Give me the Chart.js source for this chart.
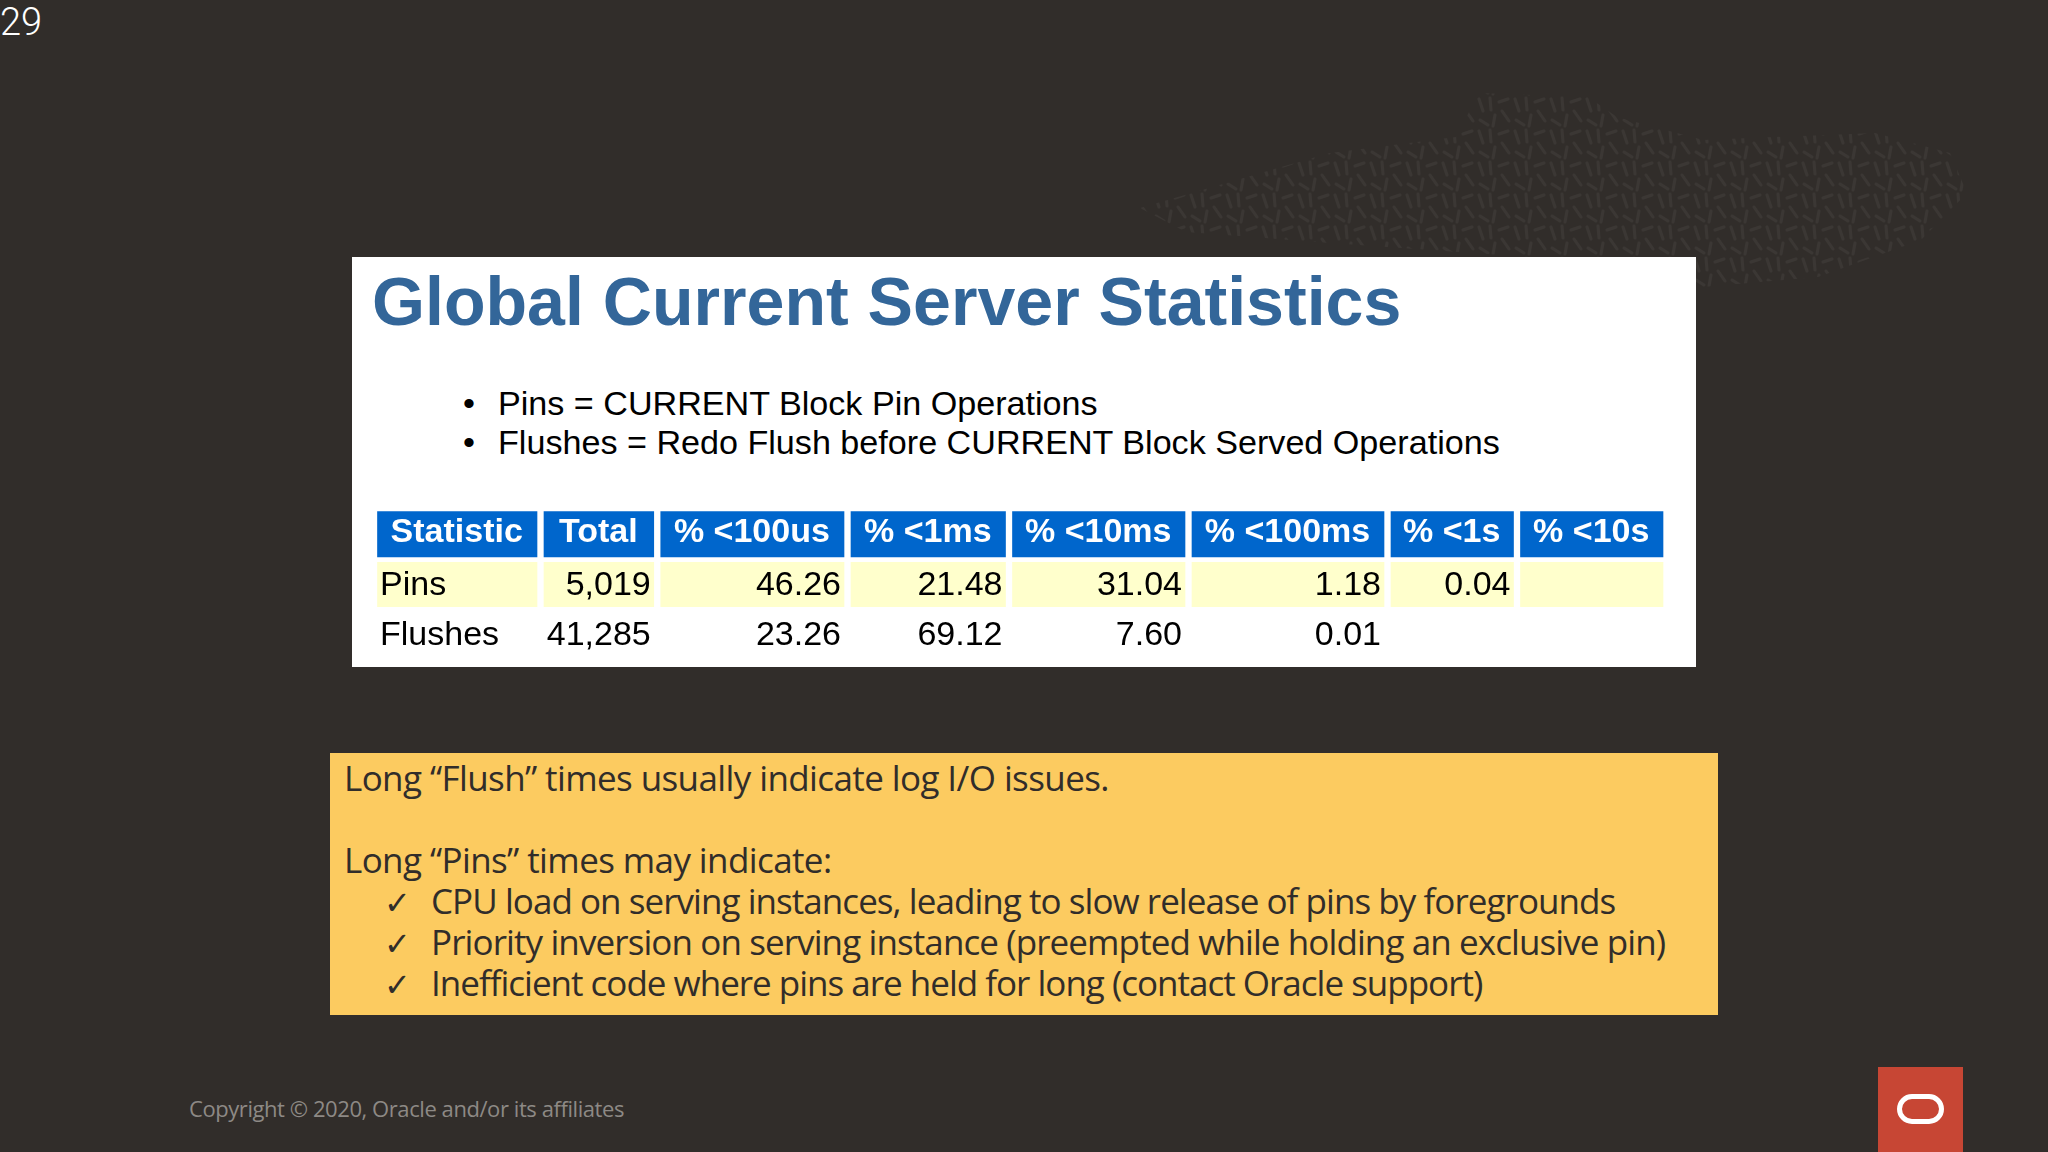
<!DOCTYPE html>
<html>
<head>
<meta charset="utf-8">
<title>Global Current Server Statistics</title>
<script src="https://cdn.jsdelivr.net/npm/chart.js@4"></script>
<style>
html, body { margin: 0; padding: 0; background: #312d2a; }
#slide { position: relative; width: 2048px; height: 1152px; overflow: hidden; background: #312d2a; }
#slide > * { position: absolute; }
.txt { white-space: nowrap; line-height: 1; transform: translateY(-50%); }
#pageNo { left: 0; top: 0; font: 300 38px Roboto, sans-serif; color: #fff; }
#blob { left: 0; top: 0; }
#panel { left: 352px; top: 257px; width: 1344px; height: 410px; background: #fff; }
#title { left: 372px; top: 301px; font: bold 68.1px "Liberation Sans", Arial, sans-serif; color: #336699; }
.bul { font: 34.13px "Liberation Sans", Arial, sans-serif; color: #000; }
#box { left: 330px; top: 753px; width: 1388px; height: 262px; background: #fccb60; }
#notes { left: 344px; top: 757px; font: 35px/41px "Open Sans", sans-serif; color: #312d2a; letter-spacing: -0.6px; white-space: nowrap; }
#notes .li { letter-spacing: -0.9px; }
#notes .ck { display: inline-block; width: 87px; padding-left: 40px; box-sizing: border-box; font-family: "DejaVu Sans"; font-size: 32px; line-height: 0; letter-spacing: 0; }
#tableWrap { left: 373.5px; top: 509px; width: 1292.5px; height: 151px; }
#copy { left: 189px; top: 1108px; font: 22px "Open Sans", sans-serif; color: #8d8985; letter-spacing: -0.43px; }
#logo { left: 1878px; top: 1067px; width: 85px; height: 85px; background: #c74634; }
#logo div { position: absolute; left: 19px; top: 27px; width: 37px; height: 20px; border: 5px solid #fff; border-radius: 15px; }
</style>
</head>
<body>
<div id="slide">
  <svg id="blob" width="2048" height="1152">
    <defs>
      <pattern id="dashes" width="36" height="32" patternUnits="userSpaceOnUse">
        <g stroke="#3b3734" stroke-width="3" stroke-linecap="round">
          <path d="M3 3 L7 15"/><path d="M14 2 L15 14"/><path d="M23 6 L32 3"/>
          <path d="M4 24 L12 29"/><path d="M19 19 L17 30"/><path d="M26 15 L33 25"/>
        </g>
      </pattern>
    </defs>
    <path fill="url(#dashes)" d="M1140 208 L1330 153 L1456 137 L1479 93 L1588 97 L1617 117 L1703 140 L1875 133 L1950 153 L1967 193 L1921 240 L1818 277 L1703 287 L1530 257 L1330 243 L1186 232 Z"/>
  </svg>

  <div id="pageNo">29</div>

  <div id="panel"></div>
  <div id="title" class="txt">Global Current Server Statistics</div>
  <div class="txt bul" style="left:463px;top:403px">•</div>
  <div class="txt bul" style="left:498px;top:403px">Pins = CURRENT Block Pin Operations</div>
  <div class="txt bul" style="left:463px;top:442px">•</div>
  <div class="txt bul" style="left:498px;top:442px">Flushes = Redo Flush before CURRENT Block Served Operations</div>

  <div id="tableWrap"><canvas id="statsTable"></canvas></div>

  <div id="box"></div>
  <div id="notes">Long “Flush” times usually indicate log I/O issues.<br>
<br>
Long “Pins” times may indicate:<br>
<span class="ck">✓</span><span class="li" style="letter-spacing:-0.95px">CPU load on serving instances, leading to slow release of pins by foregrounds</span><br>
<span class="ck">✓</span><span class="li">Priority inversion on serving instance (preempted while holding an exclusive pin)</span><br>
<span class="ck">✓</span><span class="li" style="letter-spacing:-1px">Inefficient code where pins are held for long (contact Oracle support)</span></div>

  <div id="copy" class="txt">Copyright © 2020, Oracle and/or its affiliates</div>
  <div id="logo"><div></div></div>
</div>

<script>
// table content
const headers = ['Statistic', 'Total', '% <100us', '% <1ms', '% <10ms', '% <100ms', '% <1s', '% <10s'];
const rowNames = ['Pins', 'Flushes'];
const pinsValues = [5019, 46.26, 21.48, 31.04, 1.18, 0.04, null];
const flushesValues = [41285, 23.26, 69.12, 7.60, 0.01, null, null];

// column widths, they include the white gap between the cells
const columnWidths = [166.5, 116.75, 190.25, 161.5, 179.5, 199, 129.5, 149.5];
const rowFills = ['#0066cc', '#ffffcc', '#ffffff'];
const rowGaps = [2.5, 3, 3];
const sideGap = 3.5;

const categories = ['header', ...rowNames];

function cellText(row, col) {
    if (row === 0) return headers[col];
    if (col === 0) return rowNames[row - 1];
    const values = row === 1 ? pinsValues : flushesValues;
    const v = values[col - 1];
    if (v === null) return '';
    return col === 1 ? v.toLocaleString('en-US') : v.toFixed(2);
}

// the library has no table type: each column is one stacked bar series
const cellLabels = {
    id: 'cellLabels',
    afterDatasetsDraw(chart) {
        const ctx = chart.ctx;
        ctx.save();
        ctx.textBaseline = 'middle';
        chart.data.datasets.forEach((ds, col) => {
            chart.getDatasetMeta(col).data.forEach((bar, row) => {
                const left = bar.base + sideGap;
                const right = bar.x - sideGap;
                const text = cellText(row, col);
                const shift = row === 1 ? 1.5 : 0.5;
                if (row === 0) {
                    ctx.font = 'bold 34px "Liberation Sans", Arial, sans-serif';
                    ctx.fillStyle = '#ffffff';
                    ctx.textAlign = 'center';
                    ctx.fillText(text, (left + right) / 2 - 0.5, bar.y - 1.5);
                } else if (col === 0) {
                    ctx.font = '34px "Liberation Sans", Arial, sans-serif';
                    ctx.fillStyle = '#000000';
                    ctx.textAlign = 'left';
                    ctx.fillText(text, left + 2.5, bar.y + shift);
                } else {
                    ctx.font = '34px "Liberation Sans", Arial, sans-serif';
                    ctx.fillStyle = '#000000';
                    ctx.textAlign = 'right';
                    ctx.fillText(text, right - 3, bar.y + shift);
                }
            });
        });
        ctx.restore();
    }
};

new Chart(document.getElementById('statsTable'), {
    type: 'bar',
    data: {
        labels: categories,
        datasets: headers.map((h, col) => ({
            label: h,
            data: categories.map(() => columnWidths[col]),
            backgroundColor: rowFills,
            borderColor: '#ffffff',
            borderSkipped: false,
            borderWidth: ctx => ({
                left: sideGap,
                right: sideGap,
                top: rowGaps[ctx.dataIndex],
                bottom: rowGaps[ctx.dataIndex]
            }),
            barPercentage: 1,
            categoryPercentage: 1
        }))
    },
    options: {
        indexAxis: 'y',
        responsive: true,
        maintainAspectRatio: false,
        animation: false,
        layout: { padding: 0 },
        plugins: { legend: { display: false }, tooltip: { enabled: false } },
        scales: {
            x: { stacked: true, display: false, min: 0, max: columnWidths.reduce((a, b) => a + b, 0) },
            y: { stacked: true, display: false }
        }
    },
    plugins: [cellLabels]
});
</script>
</body>
</html>
